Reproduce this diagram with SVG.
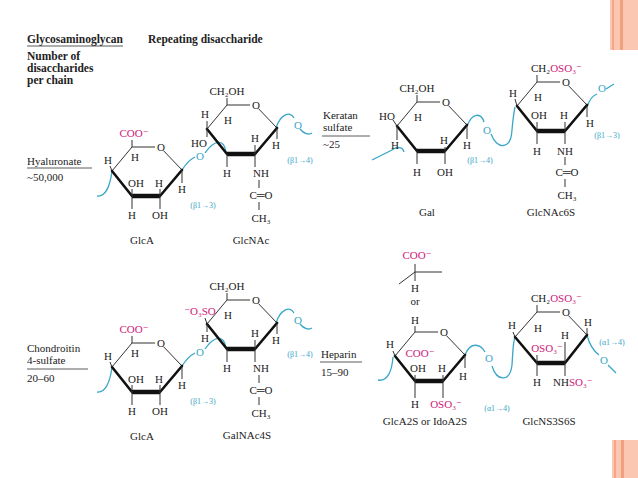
<svg xmlns="http://www.w3.org/2000/svg" width="638" height="478" viewBox="0 0 638 478">
<style>
text{font-family:"Liberation Serif","Times New Roman","DejaVu Serif",serif;font-size:11px;fill:#222;text-anchor:middle}
.h{font-weight:bold;text-anchor:start;font-size:11.5px}
.l{text-anchor:start}
.m{fill:#d0197a}
.b{fill:#3aa6c8}
.s{fill:#3aa6c8;font-size:8px}
.t{stroke:#333;stroke-width:1;fill:none}
.k1{stroke:#111;stroke-width:2.6;stroke-linecap:round;fill:none}
.k2{stroke:#111;stroke-width:4.5;fill:none}
.bl{stroke:#3aa6c8;stroke-width:1.3;fill:none}
.u{stroke:#333;stroke-width:0.8}
</style>
<defs>
<g id="ring">
<path class="t" d="M-20,24 L0,0 L28,0 L50,23"/>
<path class="k1" d="M-20,24 L0,49 M28,49 L50,23"/>
<path class="k2" d="M0,49 L28,49"/>
<circle cx="28" cy="0" r="5" fill="#fff"/>
<text x="29" y="4">O</text>
</g>
</defs>
<rect width="638" height="478" fill="#fff"/>
<g id="deco">
<rect x="610" y="0" width="28" height="50" fill="#fbc6b2"/>
<rect x="612" y="0" width="2" height="50" fill="#f4a889"/>
<rect x="620" y="0" width="3" height="50" fill="#f0a07e"/>
<rect x="612" y="440" width="26" height="38" fill="#fbc6b2"/>
<rect x="614" y="440" width="2" height="38" fill="#f4a889"/>
<rect x="621" y="440" width="3" height="38" fill="#f0a07e"/>
</g>
<g id="headers">
<text class="h" x="27" y="43">Glycosaminoglycan</text>
<line class="u" x1="27" y1="46" x2="123" y2="46"/>
<text class="h" x="148" y="43">Repeating disaccharide</text>
<text class="h" x="27" y="60">Number of</text>
<text class="h" x="27" y="72">disaccharides</text>
<text class="h" x="27" y="84">per chain</text>
</g>
<g id="names">
<text class="l" x="27" y="165">Hyaluronate</text>
<line class="u" x1="27" y1="168" x2="92" y2="168"/>
<text class="l" x="27" y="181">~50,000</text>
<text class="l" x="323" y="119">Keratan</text>
<text class="l" x="323" y="131">sulfate</text>
<line class="u" x1="322" y1="136" x2="370" y2="136"/>
<text class="l" x="323" y="148">~25</text>
<text class="l" x="27" y="352">Chondroitin</text>
<text class="l" x="27" y="364">4-sulfate</text>
<line class="u" x1="27" y1="369" x2="88" y2="369"/>
<text class="l" x="27" y="382">20–60</text>
<text class="l" x="321" y="358">Heparin</text>
<line class="u" x1="320" y1="362" x2="362" y2="362"/>
<text class="l" x="321" y="376">15–90</text>
</g>
<g id="connectors">
<path class="bl" d="M97,196 C105,197 110,187 112,171"/>
<path class="bl" d="M182,170 C187,162 191,159 195,157"/>
<path class="bl" d="M205,153 C214,140 224,138 226,152"/>
<path class="bl" d="M276,128 C280,115 290,110 294,118"/>
<path class="bl" d="M300,129 C304,134 309,135 312,133"/>
<path class="bl" d="M97,392 C105,393 110,383 112,367"/>
<path class="bl" d="M182,366 C187,358 191,355 195,353"/>
<path class="bl" d="M205,349 C214,336 224,334 226,348"/>
<path class="bl" d="M276,323 C280,310 290,305 294,313"/>
<path class="bl" d="M300,324 C304,329 309,330 312,328"/>
<path class="bl" d="M372,160 L392,150 C397,146 403,147 404,152"/>
<path class="bl" d="M467,126 C472,113 481,112 484,122"/>
<path class="bl" d="M491,134 C497,150 511,150 512,130 C513,118 514,112 515,107"/>
<path class="bl" d="M587,107 C590,98 594,95 597,94"/>
<path class="bl" d="M606,89 L614,84"/>
<path class="bl" d="M378,380 C388,382 392,370 393,357"/>
<path class="bl" d="M465,355 C470,342 480,343 485,352"/>
<path class="bl" d="M492,366 C497,382 510,382 512,365 C513,350 513,342 515,337"/>
<path class="bl" d="M587,335 C590,347 595,352 599,355"/>
<path class="bl" d="M608,365 L616,373"/>
<text class="b" x="200" y="160">O</text>
<text class="b" x="200" y="356">O</text>
<text class="b" x="298" y="129">O</text>
<text class="b" x="298" y="324">O</text>
<text class="b" x="487" y="134">O</text>
<text class="b" x="602" y="92">O</text>
<text class="b" x="489" y="362">O</text>
<text class="b" x="604" y="364">O</text>
<text class="s" x="203" y="208">(β1→3)</text>
<text class="s" x="300" y="163">(β1→4)</text>
<text class="s" x="203" y="404">(β1→3)</text>
<text class="s" x="300" y="357">(β1→4)</text>
<text class="s" x="480" y="163">(β1→4)</text>
<text class="s" x="607" y="138">(β1→3)</text>
<text class="s" x="497" y="411">(α1→4)</text>
<text class="s" x="612" y="345">(α1→4)</text>
</g>
<g id="glca1" transform="translate(132,147)">
<use href="#ring"/>
<path class="t" d="M0,0 V-7 M-20,24 L-22,19 M0,49 V42 M28,49 V42 M0,49 V62 M28,49 V62 M50,23 V36"/>
<text class="m" x="2" y="-10">COO⁻</text>
<text x="3" y="14">H</text><text x="-24" y="17">H</text>
<text x="4" y="40">OH</text><text x="27" y="40">H</text>
<text x="0" y="72">H</text><text x="28" y="72">OH</text>
<text x="50" y="46">H</text>
<text x="10" y="97">GlcA</text>
</g>
<g id="glcnac" transform="translate(227,105)">
<use href="#ring"/>
<path class="t" d="M0,0 V-7 M-20,24 V16 M-20,24 V32 M28,49 V40 M50,23 V34 M0,49 V62 M28,49 V62 M32,75 V83 M32,97 V105"/>
<text x="0" y="-10">CH₂OH</text>
<text x="-22" y="13">H</text><text x="1" y="19">H</text>
<text x="-28" y="42">HO</text><text x="28" y="37">H</text><text x="49" y="44">H</text>
<text x="0" y="72">H</text><text x="34" y="72">NH</text>
<text x="34" y="94">C═O</text><text x="34" y="117">CH₃</text>
<text x="24" y="139">GlcNAc</text>
</g>
<g id="gal" transform="translate(417,102)">
<use href="#ring"/>
<path class="t" d="M0,0 V-7 M-20,24 L-24,18 M-20,24 V38 M28,49 V45 M50,23 V37 M0,49 V62 M28,49 V62"/>
<text x="0" y="-10">CH₂OH</text>
<text x="-30" y="18">HO</text><text x="1" y="19">H</text>
<text x="-22" y="47">H</text><text x="27" y="42">H</text><text x="50" y="47">H</text>
<text x="0" y="74">H</text><text x="28" y="74">OH</text>
<text x="10" y="114">Gal</text>
</g>
<g id="glcnac6s" transform="translate(537,82)">
<use href="#ring"/>
<path class="t" d="M0,0 V-7 M-20,24 L-22,17 M0,49 V40 M28,49 V40 M50,23 V35 M0,49 V62 M28,49 V62 M28,75 V83 M28,97 V105"/>
<text class="l" x="-6" y="-10">CH₂<tspan class="m">OSO₃⁻</tspan></text>
<text x="-24" y="15">H</text><text x="1" y="19">H</text>
<text x="2" y="37">OH</text><text x="27" y="37">H</text><text x="53" y="45">H</text>
<text x="0" y="73">H</text><text x="28" y="73">NH</text>
<text x="30" y="94">C═O</text><text x="30" y="117">CH₃</text>
<text x="14" y="134">GlcNAc6S</text>
</g>
<g id="glca3" transform="translate(132,343)">
<use href="#ring"/>
<path class="t" d="M0,0 V-7 M-20,24 L-22,19 M0,49 V42 M28,49 V42 M0,49 V62 M28,49 V62 M50,23 V36"/>
<text class="m" x="2" y="-10">COO⁻</text>
<text x="3" y="14">H</text><text x="-24" y="17">H</text>
<text x="4" y="40">OH</text><text x="27" y="40">H</text>
<text x="0" y="72">H</text><text x="28" y="72">OH</text>
<text x="50" y="46">H</text>
<text x="10" y="97">GlcA</text>
</g>
<g id="galnac4s" transform="translate(227,300)">
<use href="#ring"/>
<path class="t" d="M0,0 V-7 M-20,24 L-22,18 M-20,24 V32 M28,49 V40 M50,23 V34 M0,49 V62 M28,49 V62 M32,75 V83 M32,97 V105"/>
<text x="0" y="-10">CH₂OH</text>
<text class="m" x="-27" y="15">⁻O₃SO</text><text x="1" y="19">H</text>
<text x="-22" y="42">H</text><text x="28" y="37">H</text><text x="49" y="44">H</text>
<text x="0" y="72">H</text><text x="34" y="72">NH</text>
<text x="34" y="94">C═O</text><text x="34" y="117">CH₃</text>
<text x="20" y="139">GalNAc4S</text>
</g>
<g id="idoa2s" transform="translate(415,332)">
<use href="#ring"/>
<path class="t" d="M0,-60 V-68 M0,-60 L-16,-48 M0,-60 H27 M0,-60 V-51 M0,0 V-6 M-20,24 L-22,19 M0,49 V43 M28,49 V43 M0,49 V66 M28,49 V66 M50,23 V36"/>
<text class="m" x="2" y="-73">COO⁻</text>
<text x="0" y="-40">H</text><text x="0" y="-27">or</text><text x="0" y="-8">H</text>
<text x="-25" y="16">H</text><text class="m" x="5" y="25">COO⁻</text>
<text x="3" y="40">OH</text><text x="27" y="40">H</text><text x="48" y="48">H</text>
<text x="0" y="76">H</text><text class="m" x="31" y="76">OSO₃⁻</text>
<text x="10" y="93">GlcA2S or IdoA2S</text>
</g>
<g id="glcns3s6s" transform="translate(537,312)">
<path class="t" d="M-22,25 L0,0 L28,0 L50,23"/>
<path class="k1" d="M-22,25 L0,51 M28,51 L50,23"/>
<path class="k2" d="M0,51 L28,51"/>
<circle cx="28" cy="0" r="5" fill="#fff"/>
<text x="29" y="4">O</text>
<path class="t" d="M0,0 V-7 M-22,25 L-24,20 M50,23 V16 M28,51 V30 M0,51 V43 M0,51 V64 M28,51 V64"/>
<text class="l" x="-6" y="-10">CH₂<tspan class="m">OSO₃⁻</tspan></text>
<text x="-25" y="17">H</text><text x="1" y="20">H</text><text x="51" y="14">H</text>
<text x="28" y="27">H</text><text class="m" x="10" y="40">OSO₃⁻</text>
<text x="0" y="74">H</text><text class="l" x="16" y="74">NH<tspan class="m">SO₃⁻</tspan></text>
<text x="12" y="113">GlcNS3S6S</text>
</g>
</svg>
